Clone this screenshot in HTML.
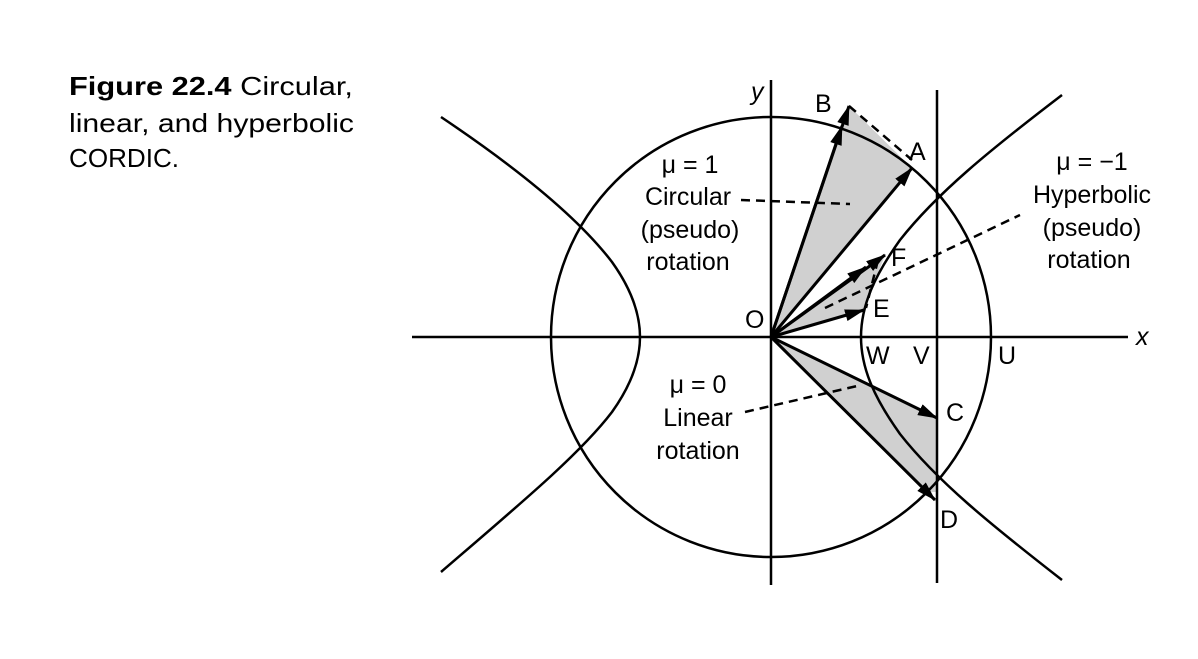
<!DOCTYPE html>
<html><head><meta charset="utf-8"><style>
html,body{margin:0;padding:0;background:#fff;}
svg{display:block;}
text{font-family:"Liberation Sans",Arial,sans-serif;fill:#000;}
</style></head><body>
<svg width="1198" height="659" viewBox="0 0 1198 659" xmlns="http://www.w3.org/2000/svg">
<defs>
<marker id="ah" viewBox="0 0 20 12" refX="19" refY="6" markerWidth="20" markerHeight="12" markerUnits="userSpaceOnUse" orient="auto">
<path d="M0,0 L20,6 L0,12 z" fill="#000"/>
</marker>
</defs>
<!-- caption -->
<text x="69" y="95" font-size="26" textLength="284" lengthAdjust="spacingAndGlyphs"><tspan font-weight="bold">Figure 22.4</tspan>  Circular,</text>
<text x="69" y="132" font-size="26" textLength="285" lengthAdjust="spacingAndGlyphs">linear, and hyperbolic</text>
<text x="69" y="167" font-size="26" textLength="110" lengthAdjust="spacingAndGlyphs">CORDIC.</text>

<!-- shaded regions -->
<polygon points="771,337 849,106 912,168" fill="#d0d0d0"/>
<polygon points="771,337 885,255 864,310" fill="#d0d0d0"/>
<polygon points="771,337 937,418 937,492 928,492" fill="#d0d0d0"/>

<g stroke="#000" stroke-width="2.5" fill="none">
<line x1="412" y1="337" x2="1128" y2="337"/>
<line x1="771" y1="80" x2="771" y2="585"/>
<line x1="937" y1="90" x2="937" y2="583"/>
<circle cx="771" cy="337" r="220"/>
<path d="M1062,95 C990,150 937,193 900,240 C875,275 861,305 861,337 C861,369 875,399 900,434 C937,481 990,524 1062,580"/>
<path d="M441,117 C520,170 580,220 612,262 C632,290 640,315 640,337 C640,359 632,384 612,412 C580,454 520,504 441,572"/>
</g>

<g stroke="#000" stroke-width="3" fill="none">
<line x1="771" y1="337" x2="849" y2="106" marker-end="url(#ah)"/>
<line x1="771" y1="337" x2="842" y2="126" marker-end="url(#ah)"/>
<line x1="771" y1="337" x2="912" y2="168" marker-end="url(#ah)"/>
<line x1="771" y1="337" x2="885" y2="255" marker-end="url(#ah)"/>
<line x1="771" y1="337" x2="866" y2="267" marker-end="url(#ah)"/>
<line x1="771" y1="337" x2="864" y2="310" marker-end="url(#ah)"/>
<line x1="771" y1="337" x2="937" y2="418" marker-end="url(#ah)"/>
<line x1="771" y1="337" x2="935" y2="500" marker-end="url(#ah)"/>
</g>

<g stroke="#000" stroke-width="2.5" fill="none" stroke-dasharray="9,6">
<line x1="849" y1="106" x2="912" y2="160"/>
<line x1="878" y1="260" x2="866" y2="308"/>
<line x1="741" y1="200" x2="850" y2="204"/>
<line x1="825" y1="308" x2="1020" y2="215"/>
<line x1="745" y1="412" x2="857" y2="386"/>
</g>

<g font-size="25">
<text x="751" y="100" font-style="italic">y</text>
<text x="1136" y="345" font-style="italic">x</text>
<text x="815" y="112">B</text>
<text x="909" y="160">A</text>
<text x="891" y="266">F</text>
<text x="873" y="317">E</text>
<text x="745" y="328">O</text>
<text x="866" y="364">W</text>
<text x="913" y="364">V</text>
<text x="998" y="364">U</text>
<text x="946" y="421">C</text>
<text x="940" y="528">D</text>
<g text-anchor="middle">
<text x="690" y="173">μ = 1</text>
<text x="688" y="205">Circular</text>
<text x="690" y="238">(pseudo)</text>
<text x="688" y="270">rotation</text>
<text x="1092" y="170">μ = −1</text>
<text x="1092" y="203">Hyperbolic</text>
<text x="1092" y="236">(pseudo)</text>
<text x="1089" y="268">rotation</text>
<text x="698" y="393">μ = 0</text>
<text x="698" y="426">Linear</text>
<text x="698" y="459">rotation</text>
</g>
</g>
</svg>
</body></html>
